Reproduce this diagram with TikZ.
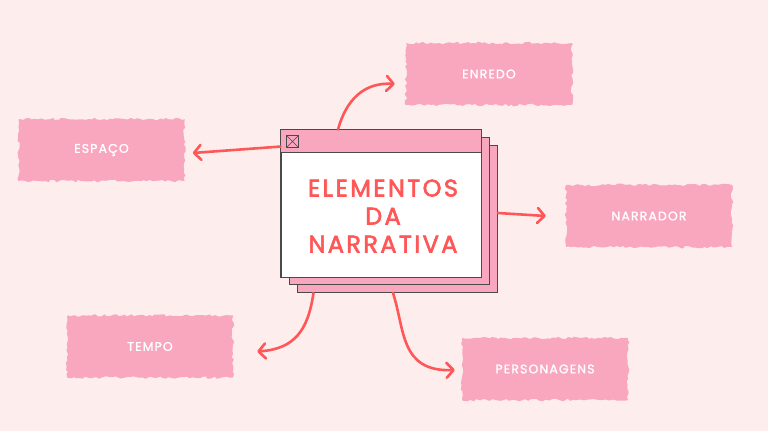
\documentclass[tikz,border=0pt]{standalone}
\usepackage{fontspec}
\setmainfont{Poppins}
\newfontfamily\popfb{Poppins}[FakeBold=2.5]
\newfontfamily\popsb{Poppins}[FakeBold=1.5]
\usetikzlibrary{arrows.meta,decorations.pathmorphing}
\definecolor{bg}{HTML}{FDEDED}
\definecolor{brush}{HTML}{F9A6BF}
\definecolor{redc}{HTML}{FF5757}
\definecolor{framec}{HTML}{4A4A4A}
\begin{document}
\begin{tikzpicture}[x=1pt,y=-1pt,
  brushbox/.style={fill=brush, decorate, decoration={random steps,segment length=3pt,amplitude=1.3pt},
    minimum width=166pt, minimum height=62pt, inner sep=0pt, text=white,
    font=\popsb\fontsize{12.5}{14}\selectfont\addfontfeature{LetterSpace=9}},
  win/.style={draw=framec, line width=0.9pt, minimum width=200pt, minimum height=147pt, inner sep=0pt},
  arr/.style={draw=redc, line width=2.6pt, line cap=round, line join=round,
    -{Straight Barb[length=7pt,width=15pt,line width=2.6pt,round]}},
  title/.style={text=redc, align=center, font=\popfb\fontsize{24}{28}\selectfont\addfontfeature{LetterSpace=10}}
]
\pgfmathsetseed{7}
\useasboundingbox (0,0) rectangle (768,431);
\fill[bg] (0,0) rectangle (768,431);

% brush boxes
\node[brushbox] (enr) at (489,74) {ENREDO};
\node[brushbox] (esp) at (101.5,150) {ESPAÇO};
\node[brushbox] (tem) at (150,346.5) {TEMPO};
\node[brushbox] (per) at (545,369) {PERSONAGENS};
\node[brushbox] (nar) at (649,216) {NARRADOR};

% windows
\node[win, fill=brush] (w3) at (397.5,219) {};
\node[win, fill=brush] (w2) at (389,210.5) {};
\node[win, fill=white] (w) at (381,203.5) {};
\coordinate (tb) at ([yshift=-23]w.north east);
\fill[brush] (w.north west) rectangle (tb);
\draw[framec, line width=0.9pt] (w.north west) rectangle (w.south east);
\draw[framec, line width=0.9pt] ([yshift=-23]w.north west) -- (tb);
\node[draw=framec, line width=0.8pt, minimum size=12.5pt, inner sep=0pt,
  path picture={\draw[framec, line width=0.6pt] (path picture bounding box.north west) -- (path picture bounding box.south east)
  (path picture bounding box.north east) -- (path picture bounding box.south west);}] (close) at (292.5,141.5) {};
\node[title] (lbl) at (383,216) {ELEMENTOS\\DA\\NARRATIVA};

% arrow end points
\coordinate (a1s) at ([xshift=-43]w.north);
\coordinate (a1e) at ([xshift=-11,yshift=-10]enr.west);
\coordinate (a2s) at ([yshift=-17]w.north west);
\coordinate (a2e) at ([xshift=8,yshift=-3]esp.east);
\coordinate (a3s) at ([yshift=6]w3.east);
\coordinate (a3e) at ([xshift=-20]nar.west);
\coordinate (a4s) at ([xshift=-84]w3.south);
\coordinate (a4e) at ([xshift=24,yshift=-5]tem.east);
\coordinate (a5s) at ([xshift=-4.5]w3.south);
\coordinate (a5e) at ([xshift=-7,yshift=-1]per.west);

\draw[arr] (a1s) .. controls (346,100) and (364,82) .. (a1e);
\draw[arr] (a2s) -- (a2e);
\draw[arr] (a3s) -- (a3e);
\draw[arr] (a4s) .. controls (308,330) and (295,349) .. (a4e);
\draw[arr] (a5s) .. controls (405,330) and (400,372) .. (a5e);
\end{tikzpicture}
\end{document}
